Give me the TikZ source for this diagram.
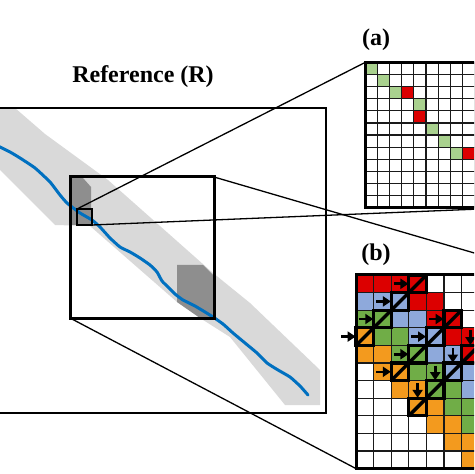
\documentclass[tikz,border=0pt]{standalone}
\usepackage{fontspec}
\setmainfont{Liberation Serif}
\usetikzlibrary{arrows.meta}
\definecolor{bandgray}{HTML}{D9D9D9}
\definecolor{blockgray}{HTML}{8E8E8E}
\definecolor{pathblue}{HTML}{0070C0}
\definecolor{palegreen}{HTML}{A9D18E}
\definecolor{cellred}{HTML}{DC0000}
\definecolor{cellblue}{HTML}{8EA9DB}
\definecolor{cellgreen}{HTML}{70AD47}
\definecolor{cellorange}{HTML}{F39A1E}
\definecolor{gridcol}{HTML}{1A1A1A}
\tikzset{
  label text/.style={font=\bfseries\fontsize{12}{14}\selectfont, inner sep=0pt, anchor=base},
  outerbox/.style={draw=black, line width=0.85pt},
  innerbox/.style={draw=black, line width=1.5pt},
  tinybox/.style={draw=black, line width=1.1pt},
  callout/.style={draw=black, line width=0.65pt},
  gridline/.style={draw=gridcol, line width=0.6pt},
  gridframe/.style={draw=black, line width=1.5pt},
  pathcell/.style={draw=black, line width=1.6pt},
  diagline/.style={draw=black, line width=1.7pt},
  steparrow/.style={draw=black, line width=1.3pt, -{Triangle[length=4pt,width=5pt]}},
}
\begin{document}
\begin{tikzpicture}[x=0.5pt,y=-0.5pt]
\useasboundingbox (0,0) rectangle (474,474);
\clip (0,0) rectangle (474,474);
\fill[white] (0,0) rectangle (474,474);

% ---------- reference panel ----------
% band
\fill[bandgray] (-2,108) -- (15,108) -- (45,134) -- (108,180) -- (213,273)
   -- (250,303) -- (320,370)
   -- (320,405) -- (285,405) -- (230,337) -- (200,318) -- (177,302) -- (90,226)
   -- (55,225) -- (-2,168) -- cycle;
% dark blocks
\fill[blockgray] (71,178) -- (83,178) -- (91,187) -- (91,225) -- (71,225) -- cycle;
\fill[blockgray] (177,265) -- (203,265) -- (213,275) -- (213,318) -- (200,318) -- (177,302) -- cycle;
% warping path
\draw[pathblue, line width=1.5pt, line join=round, line cap=round] plot[smooth, tension=0.3] coordinates {
 (-2,146) (10,152) (20,158) (35,168) (50,182) (60,195) (67,203) (80,213) (92,220)
 (100,227) (110,238) (120,247) (130,252) (140,258) (150,265) (157,272) (162,281)
 (168,287) (175,294) (183,300) (195,306) (205,312) (213,317) (223,324) (233,333)
 (245,343) (257,353) (267,363) (278,370) (290,377) (300,386) (308,395)};

% boxes
\coordinate (refTL) at (-2,108);
\coordinate (refBR) at (326,413);
\draw[outerbox] (refTL) rectangle (refBR);

\coordinate (inTL) at (70,177);
\coordinate (inTR) at (214,177);
\coordinate (inBL) at (70,318);
\coordinate (inBR) at (214,318);
\draw[innerbox] (inTL) rectangle (inBR);

\coordinate (tyTL) at (77,209);
\coordinate (tyBR) at (92,225);
\draw[tinybox] (tyTL) rectangle (tyBR);

\node[label text] (title) at (143,83) {Reference (R)};
\node[label text] (labA) at (376,46) {(a)};
\node[label text] (labB) at (376,261) {(b)};

% ---------- panel (a) ----------
\begin{scope}[shift={(365,62.5)}, x=6.1pt, y=-6.05pt]
  \coordinate (aTL) at (0,0);
  \coordinate (aBR) at (12,12);
  \foreach \c/\r in {0/0,1/1,2/2,4/3,5/5,6/6,7/7}
    \fill[palegreen] (\c,\r) rectangle ++(1,1);
  \foreach \c/\r in {3/2,4/4,8/7}
    \fill[cellred] (\c,\r) rectangle ++(1,1);
  \foreach \k in {1,...,11} {
    \draw[gridline] (\k,0) -- (\k,12);
    \draw[gridline] (0,\k) -- (12,\k);}
  \draw[gridframe] (aTL) rectangle (aBR);
\end{scope}

% ---------- panel (b) ----------
\begin{scope}[shift={(356,275)}, x=8.8pt, y=-8.8pt]
  \coordinate (bTL) at (0,0);
  \coordinate (bTR) at (11,0);
  \coordinate (bBL) at (0,11);
  \coordinate (bBR) at (11,11);
  % red
  \fill[cellred] (0,0) rectangle (4,1);
  \foreach \r in {1,...,10} {
    \fill[cellred] ({\r+2},\r) rectangle ++(2,1);}
  % blue
  \fill[cellblue] (0,1) rectangle (3,2);
  \foreach \r in {2,...,10} {
    \fill[cellblue] (\r,\r) rectangle ++(2,1);}
  % green
  \fill[cellgreen] (0,2) rectangle (2,3);
  \foreach \r in {3,...,10} {
    \fill[cellgreen] ({\r-2},\r) rectangle ++(2,1);}
  % orange
  \fill[cellorange] (0,3) rectangle (1,4);
  \foreach \r in {4,...,10} {
    \fill[cellorange] ({\r-4},\r) rectangle ++(2,1);}
  \foreach \k in {1,...,10} {
    \draw[gridline] (\k,0) -- (\k,11);
    \draw[gridline] (0,\k) -- (11,\k);}
  \draw[gridframe] (bTL) rectangle (bBR);
  % path cells
  \foreach \c/\r in {3/0,2/1,1/2,0/3, 5/2,4/3,3/4,2/5, 6/4,5/5,4/6,3/7}
    \draw[pathcell] (\c,\r) rectangle ++(1,1);
  \draw[diagline] (0,4) -- (4,0);
  \draw[diagline] (2,6) -- (6,2);
  \draw[diagline] (3,8) -- (7,4);
  % arrows
  \foreach \c/\r in {2/0,1/1,0/2,-1/3, 4/2,3/3,2/4,1/5}
    \draw[steparrow] ({\c+0.15},{\r+0.5}) -- ({\c+0.98},{\r+0.5});
  \foreach \c/\r in {6/3,5/4,4/5,3/6}
    \draw[steparrow] ({\c+0.5},{\r+0.15}) -- ({\c+0.5},{\r+0.98});
\end{scope}

% ---------- callout lines ----------
\draw[callout] (tyTL) -- (aTL);
\draw[callout] (tyBR) -- (aBR);
\draw[callout] (inTR) -- (bTR);
\draw[callout] (inBL) -- (bBL);
\end{tikzpicture}
\end{document}
